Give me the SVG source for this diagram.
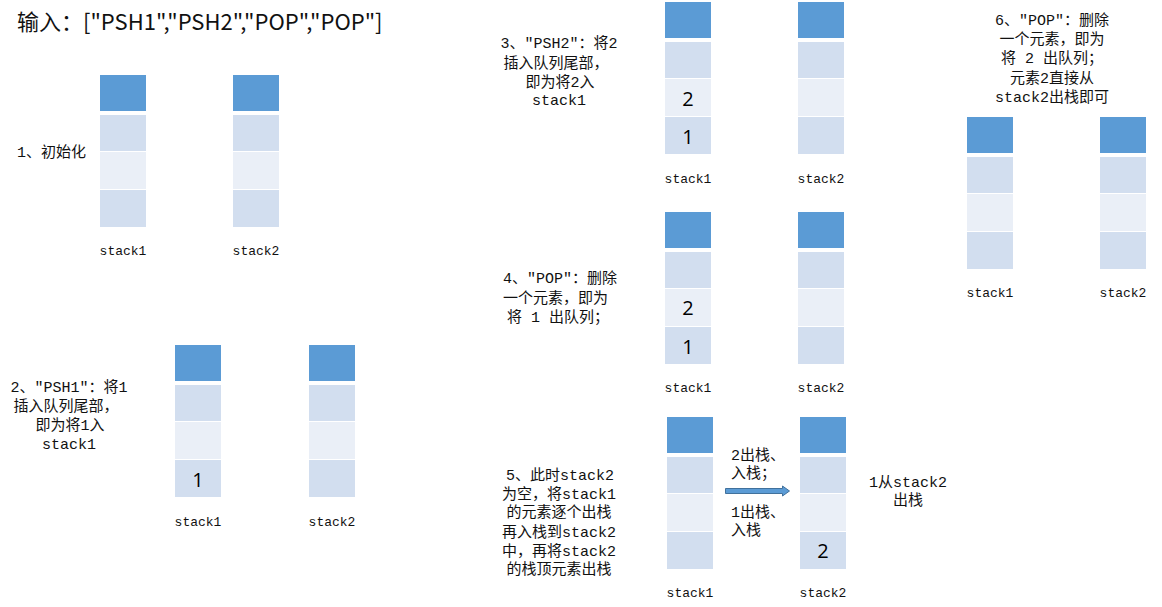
<svg xmlns="http://www.w3.org/2000/svg" xmlns:xlink="http://www.w3.org/1999/xlink" width="1162" height="607" viewBox="0 0 1162 607">
<style>
.top{fill:#5B9BD5}
.c1{fill:#D2DEEF}
.c2{fill:#EAEFF7}
.cn{font-family:"Liberation Mono","Noto Sans CJK SC",monospace;font-size:15px;fill:#111}
.mid{text-anchor:middle}
.lbl{font-family:"Liberation Mono",monospace;font-size:13px;fill:#111;text-anchor:middle}
.num{font-family:"Open Sans","Liberation Sans",sans-serif;font-size:20px;fill:#000;text-anchor:middle}
.title{font-family:"Noto Sans CJK SC",sans-serif;font-size:22px;fill:#111}
</style>
<defs>
<g id="stk">
<rect class="top" x="0" y="0" width="46" height="36"/>
<rect class="c1" x="0" y="40" width="46" height="36"/>
<rect class="c2" x="0" y="77" width="46" height="37"/>
<rect class="c1" x="0" y="115" width="46" height="37"/>
</g>
</defs>
<rect width="1162" height="607" fill="#fff"/>
<text class="title" x="17" y="30">输入：["PSH1","PSH2","POP","POP"]</text>

<g id="step1">
<text class="cn" x="17" y="157">1、初始化</text>
<use xlink:href="#stk" x="100" y="75"/>
<use xlink:href="#stk" x="233" y="75"/>
<text class="lbl" x="123" y="255">stack1</text>
<text class="lbl" x="256" y="255">stack2</text>
</g>

<g id="step2">
<text class="cn mid" x="69" y="392">2、"PSH1"：将1</text>
<text class="cn mid" x="66" y="411">插入队列尾部，</text>
<text class="cn mid" x="70" y="430">即为将1入</text>
<text class="cn mid" x="69" y="449">stack1</text>
<use xlink:href="#stk" x="175" y="345"/>
<use xlink:href="#stk" x="309" y="345"/>
<text class="num" x="198" y="487">1</text>
<text class="lbl" x="198" y="526">stack1</text>
<text class="lbl" x="332" y="526">stack2</text>
</g>

<g id="step3">
<text class="cn mid" x="559" y="48">3、"PSH2"：将2</text>
<text class="cn mid" x="556" y="68">插入队列尾部，</text>
<text class="cn mid" x="560" y="87">即为将2入</text>
<text class="cn mid" x="559" y="105">stack1</text>
<use xlink:href="#stk" x="665" y="2"/>
<use xlink:href="#stk" x="798" y="2"/>
<text class="num" x="688" y="106">2</text>
<text class="num" x="688" y="144">1</text>
<text class="lbl" x="688" y="183">stack1</text>
<text class="lbl" x="821" y="183">stack2</text>
</g>

<g id="step4">
<text class="cn" x="503" y="283">4、"POP"：删除</text>
<text class="cn" x="503" y="303">一个元素，即为</text>
<text class="cn" x="507" y="322">将 1 出队列；</text>
<use xlink:href="#stk" x="665" y="212"/>
<use xlink:href="#stk" x="798" y="212"/>
<text class="num" x="688" y="315">2</text>
<text class="num" x="688" y="354">1</text>
<text class="lbl" x="688" y="392">stack1</text>
<text class="lbl" x="821" y="392">stack2</text>
</g>

<g id="step5">
<text class="cn mid" x="560" y="480">5、此时stack2</text>
<text class="cn mid" x="559" y="499">为空，将stack1</text>
<text class="cn mid" x="559" y="517">的元素逐个出栈</text>
<text class="cn mid" x="559" y="537">再入栈到stack2</text>
<text class="cn mid" x="559" y="556">中，再将stack2</text>
<text class="cn mid" x="559" y="574">的栈顶元素出栈</text>
<use xlink:href="#stk" x="667" y="417"/>
<use xlink:href="#stk" x="800" y="417"/>
<text class="num" x="823" y="558">2</text>
<text class="lbl" x="690" y="597">stack1</text>
<text class="lbl" x="823" y="597">stack2</text>
<text class="cn" x="731" y="460">2出栈、</text>
<text class="cn" x="731" y="478">入栈；</text>
<text class="cn" x="731" y="517">1出栈、</text>
<text class="cn" x="731" y="535">入栈</text>
<text class="cn mid" x="908" y="487">1从stack2</text>
<text class="cn mid" x="908" y="505">出栈</text>
</g>

<g id="step6">
<text class="cn mid" x="1052" y="25">6、"POP"：删除</text>
<text class="cn mid" x="1052" y="44">一个元素，即为</text>
<text class="cn mid" x="1052" y="63">将 2 出队列；</text>
<text class="cn mid" x="1052" y="83">元素2直接从</text>
<text class="cn mid" x="1052" y="102">stack2出栈即可</text>
<use xlink:href="#stk" x="967" y="117"/>
<use xlink:href="#stk" x="1100" y="117"/>
<text class="lbl" x="990" y="297">stack1</text>
<text class="lbl" x="1123" y="297">stack2</text>
</g>

<g id="connectors">
<path d="M725.5,488.5 H782.5 V486 L789.5,491 L782.5,496 V493.5 H725.5 Z" fill="#5B9BD5" stroke="#41719C" stroke-width="1"/>
</g>
</svg>
